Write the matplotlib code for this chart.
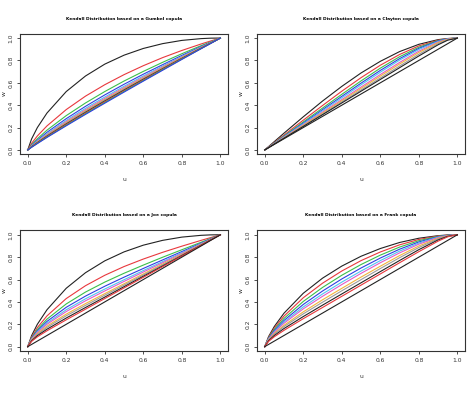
import matplotlib
matplotlib.use("Agg")
import matplotlib.pyplot as plt
from matplotlib import font_manager

names = set(f.name for f in font_manager.fontManager.ttflist)
narrow = [n for n in ['Liberation Sans Narrow', 'DejaVu Sans Condensed'] if n in names]
plt.rcParams['font.family'] = narrow + ['DejaVu Sans']

u = [0, 0.02, 0.05, 0.1, 0.2, 0.3, 0.4, 0.5, 0.6, 0.7, 0.8, 0.9, 0.95, 1.0]

# Gumbel panel, one list per curve (top to bottom)
gumbel = [
    [0, .098, .200, .330, .522, .661, .767, .847, .907, .950, .979, .995, .999, 1],
    [0, .059, .125, .215, .361, .481, .583, .673, .753, .825, .889, .947, .974, 1],
    [0, .046, .100, .177, .307, .420, .522, .616, .702, .783, .860, .932, .966, 1],
    [0, .040, .087, .158, .280, .390, .492, .587, .677, .762, .845, .924, .962, 1],
    [0, .036, .080, .146, .264, .372, .473, .569, .661, .750, .836, .919, .960, 1],
    [0, .033, .075, .138, .254, .360, .461, .558, .651, .742, .830, .916, .958, 1],
    [0, .031, .071, .133, .246, .352, .452, .550, .644, .736, .826, .914, .957, 1],
    [0, .030, .069, .129, .240, .345, .446, .543, .638, .731, .822, .912, .956, 1],
    [0, .028, .065, .123, .232, .336, .437, .535, .631, .725, .818, .909, .955, 1],
    [0, .027, .062, .119, .227, .330, .431, .529, .626, .721, .815, .908, .954, 1],
    [0, .025, .060, .115, .221, .324, .424, .523, .620, .717, .812, .906, .953, 1],
    [0, .024, .057, .112, .216, .318, .418, .517, .615, .712, .809, .905, .952, 1],
]

clayton = [
    [0, .030, .075, .150, .296, .437, .568, .688, .792, .879, .944, .986, .996, 1],
    [0, .027, .067, .133, .266, .397, .525, .646, .757, .853, .930, .981, .995, 1],
    [0, .025, .063, .125, .250, .374, .497, .617, .731, .833, .918, .977, .994, 1],
    [0, .024, .060, .120, .240, .360, .479, .597, .711, .816, .908, .974, .993, 1],
    [0, .023, .058, .117, .233, .350, .466, .582, .695, .803, .898, .970, .992, 1],
    [0, .023, .056, .113, .225, .338, .450, .562, .674, .782, .883, .964, .990, 1],
    [0, .022, .055, .110, .220, .330, .440, .550, .660, .768, .871, .959, .988, 1],
    [0, .021, .054, .107, .214, .321, .429, .536, .643, .750, .855, .950, .985, 1],
    [0, .021, .053, .105, .210, .315, .420, .525, .630, .735, .840, .940, .981, 1],
]

joe = [
    [0, .098, .200, .330, .522, .661, .767, .847, .907, .950, .979, .995, .999, 1],
    [0, .085, .170, .275, .430, .545, .638, .716, .783, .843, .898, .950, .975, 1],
    [0, .078, .153, .246, .382, .488, .577, .656, .729, .799, .866, .933, .967, 1],
    [0, .073, .141, .226, .352, .452, .540, .621, .699, .775, .850, .925, .963, 1],
    [0, .069, .133, .211, .330, .428, .515, .598, .680, .760, .840, .920, .960, 1],
    [0, .066, .126, .200, .314, .410, .498, .583, .667, .750, .833, .917, .958, 1],
    [0, .061, .116, .184, .291, .385, .474, .562, .650, .738, .825, .913, .956, 1],
    [0, .057, .108, .172, .276, .369, .460, .550, .640, .730, .820, .910, .955, 1],
    [0, .052, .098, .156, .256, .350, .443, .536, .629, .721, .814, .907, .954, 1],
    [0, .047, .088, .142, .240, .335, .430, .525, .620, .715, .810, .905, .953, 1],
]

frank = [
    [0, .090, .181, .299, .477, .612, .720, .808, .877, .931, .969, .992, .998, 1],
    [0, .083, .166, .273, .437, .567, .676, .769, .846, .910, .958, .989, .997, 1],
    [0, .078, .154, .252, .404, .529, .638, .734, .818, .890, .947, .986, .996, 1],
    [0, .073, .144, .234, .377, .497, .605, .703, .792, .871, .936, .982, .995, 1],
    [0, .069, .135, .220, .355, .471, .577, .676, .769, .854, .926, .979, .994, 1],
    [0, .066, .129, .209, .338, .450, .555, .655, .750, .838, .916, .975, .993, 1],
    [0, .061, .118, .191, .311, .419, .521, .622, .719, .814, .900, .969, .991, 1],
    [0, .058, .111, .179, .293, .397, .499, .599, .698, .795, .886, .963, .989, 1],
    [0, .053, .100, .162, .269, .371, .471, .571, .671, .770, .867, .954, .986, 1],
    [0, .047, .089, .146, .250, .350, .450, .550, .650, .750, .849, .943, .982, 1],
]

# straight line K(u) = u drawn under the bundle in three panels
diagonal = [0, 0.02, 0.05, 0.1, 0.2, 0.3, 0.4, 0.5, 0.6, 0.7, 0.8, 0.9, 0.95, 1.0]

titles = ["Kendall Distribution based on a Gumbel copula",
          "Kendall Distribution based on a Clayton copula",
          "Kendall Distribution based on a Joe copula",
          "Kendall Distribution based on a Frank copula"]
ticks = [0.0, 0.2, 0.4, 0.6, 0.8, 1.0]
tick_labels = ["0.0", "0.2", "0.4", "0.6", "0.8", "1.0"]

# R default palette
palette = ['#222222', '#e8383d', '#3cbf4a', '#2f3de0', '#4fc4f2',
           '#e35bc8', '#f2b43c', '#9a9a9a']

panels = [gumbel, clayton, joe, frank]
with_diag = [False, True, True, True]
positions = [[0.0422, 0.609, 0.439, 0.306],
             [0.5422, 0.609, 0.439, 0.306],
             [0.0422, 0.111, 0.439, 0.306],
             [0.5422, 0.111, 0.439, 0.306]]

title_size = 4.6 if narrow else 3.2

fig = plt.figure(figsize=(4.74, 3.95), dpi=100)

for k in range(4):
    ax = fig.add_axes(positions[k])
    for i, curve in enumerate(panels[k]):
        ax.plot(u, curve, color=palette[i % 8], lw=0.8)
    if with_diag[k]:
        ax.plot(u, diagonal, color='#222222', lw=0.8)
    ax.set_xlim(-0.04, 1.04)
    ax.set_ylim(-0.04, 1.04)
    ax.set_xticks(ticks)
    ax.set_xticklabels(tick_labels, fontsize=4.3)
    ax.set_yticks(ticks)
    ax.set_yticklabels(tick_labels, fontsize=4.3, rotation=90, va='center')
    ax.tick_params(direction='out', length=2.3, width=0.6, pad=2.5,
                   colors='#333333')
    for s in ax.spines.values():
        s.set_linewidth(0.8)
        s.set_color('#333333')
    ax.set_title(titles[k], fontsize=title_size, fontweight='bold', pad=10)
    ax.set_xlabel("u", fontsize=4.3, labelpad=8, color='#333333')
    ax.set_ylabel("w", fontsize=4.3, labelpad=1.5, color='#333333')

fig.savefig("out.png", dpi=100, facecolor='white')
